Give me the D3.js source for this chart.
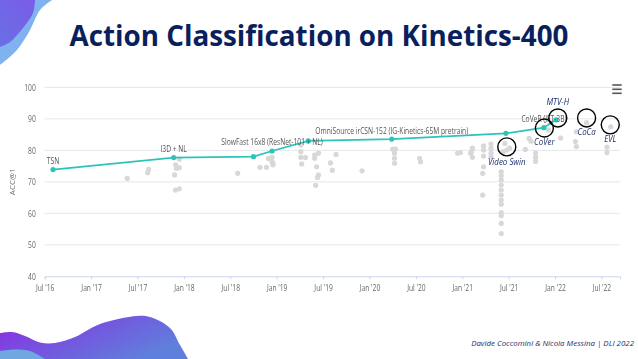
<!DOCTYPE html>
<html>
<head>
<meta charset="utf-8">
<script src="https://cdn.jsdelivr.net/npm/d3@7"></script>
<style>
html,body{margin:0;padding:0;background:#fff;overflow:hidden}
svg{display:block}
text{font-family:"Open Sans",sans-serif}
</style>
</head>
<body>
<svg id="chart" width="638" height="359"></svg>
<script>
const titleText = "Action Classification on Kinetics-400";
const footerText = "Davide Coccomini & Nicola Messina | DLI 2022";
const yTicks = [40, 50, 60, 70, 80, 90, 100];
const xTickYears = [2016.5, 2017, 2017.5, 2018, 2018.5, 2019, 2019.5, 2020, 2020.5, 2021, 2021.5, 2022, 2022.5];
const xTickLabels = ["Jul '16", "Jan '17", "Jul '17", "Jan '18", "Jul '18", "Jan '19", "Jul '19", "Jan '20", "Jul '20", "Jan '21", "Jul '21", "Jan '22", "Jul '22"];

const bestYears = [2016.59, 2017.89, 2018.75, 2018.95, 2019.34, 2020.24, 2021.47, 2021.88, 2022.01];
const bestValues = [73.9, 77.7, 78.0, 79.8, 83.0, 83.6, 85.4, 87.2, 89.7];
const bestLabels = ["TSN", "I3D + NL", "", "SlowFast 16x8 (ResNet-101 + NL)", "", "OmniSource irCSN-152 (IG-Kinetics-65M pretrain)", "", "CoVeR (JFT-3B)", ""];

const otherYears = [2017.39,2017.61,2017.62,2017.90,2017.92,2017.95,2017.91,2017.95,2017.91,2017.95,2018.58,2018.82,2018.89,2018.91,2018.95,2018.95,2018.96,2018.96,2019.26,2019.26,2019.26,2019.27,2019.31,2019.41,2019.41,2019.43,2019.45,2019.44,2019.42,2019.45,2019.58,2019.60,2019.64,2019.92,2020.25,2020.28,2020.27,2020.27,2020.27,2020.54,2020.55,2020.95,2020.98,2021.11,2021.10,2021.09,2021.11,2021.23,2021.23,2021.23,2021.23,2021.22,2021.22,2021.31,2021.31,2021.31,2021.31,2021.42,2021.42,2021.42,2021.42,2021.42,2021.42,2021.42,2021.42,2021.42,2021.42,2021.42,2021.42,2021.46,2021.51,2021.48,2021.44,2021.68,2021.72,2021.74,2021.79,2021.79,2021.79,2021.93,2022.06,2022.34,2022.23,2022.22,2022.23,2022.56,2022.56,2022.60];
const otherValues = [71.1,72.9,74.0,72.2,74.3,74.5,75.4,77.2,67.4,67.8,72.7,74.6,74.6,77.4,77.8,76.4,75.9,75.4,81.7,79.6,77.8,75.7,77.7,78.5,77.5,74.8,72.2,71.4,68.9,79.1,76.0,73.7,78.7,73.5,80.4,80.4,79.1,77.5,75.9,77.5,76.4,79.1,79.3,80.7,79.6,79.1,77.8,81.4,80.1,78.2,74.8,72.7,65.8,82.0,80.7,79.1,78.0,73.2,71.9,70.6,69.0,67.4,65.8,64.2,62.9,60.2,59.3,56.8,53.6,82.2,80.7,80.1,79.6,80.3,83.8,82.9,79.1,77.8,76.5,86.5,83.9,88.8,85.9,82.8,81.2,81.0,79.3,87.5];

const calloutNames = ["Video Swin", "CoVer", "MTV-H", "CoCa", "EVL"];
const calloutYears = [2021.48, 2021.885, 2022.03, 2022.34, 2022.595];
const calloutValues = [81.1, 87.1, 90.3, 90.3, 88.1];
const calloutLabelDy = [17.7, 17.3, -13, 17, 17];

const svg = d3.select("#chart");
const defs = svg.append("defs");
const g1 = defs.append("linearGradient").attr("id","gradBottom").attr("x1","0").attr("x2","1").attr("y1","0").attr("y2","0.5");
g1.append("stop").attr("offset","0").attr("stop-color","#8a2be2");
g1.append("stop").attr("offset","1").attr("stop-color","#5f7fdc");
const g2 = defs.append("linearGradient").attr("id","gradTop").attr("x1","1").attr("x2","0").attr("y1","0").attr("y2","1");
g2.append("stop").attr("offset","0").attr("stop-color","#7a5ce6");
g2.append("stop").attr("offset","1").attr("stop-color","#6a6fe6");
const soft = defs.append("filter").attr("id","soft");
soft.append("feGaussianBlur").attr("stdDeviation","0.3");

// decorative shapes
const curve = d3.line().curve(d3.curveCatmullRom);
const closeTo = (pts, extra) => curve(pts) + extra;
svg.append("path").attr("fill","#7fb2ee")
  .attr("d", closeTo([[52,0],[40,10],[30,30],[17,50],[0,65]], "L0,0Z"));
svg.append("path").attr("fill","url(#gradTop)")
  .attr("d", closeTo([[35,0],[33,13],[23,28],[10,42],[0,47]], "L0,0Z"));
svg.append("path").attr("fill","url(#gradBottom)")
  .attr("d", closeTo([[0,333],[12,332],[25,336],[40,342.5],[55,343],[75,337],[100,324],[137,316],[150,317],[170,328],[180,345],[188,359]], "L0,359Z"));
svg.append("path").attr("fill","#6fa8e0")
  .attr("d", closeTo([[0,351],[15,349.5],[30,351],[45,359]], "L0,359Z"));

// title and footer
svg.append("text").attr("x",319).attr("y",46).attr("text-anchor","middle")
  .attr("font-size",27.8).attr("font-weight",700).attr("fill","#0a1f5c").text(titleText);
svg.append("text").attr("x",634).attr("y",345.5).attr("text-anchor","end")
  .attr("font-size",7.9).attr("font-style","italic").attr("fill","#1d2f6b").text(footerText);

// chart
const x = d3.scaleLinear().domain([2016.5, 2022.7]).range([44.7, 620]);
const y = d3.scaleLinear().domain([40, 100]).range([276.3, 87.4]);
const chart = svg.append("g").attr("filter","url(#soft)");
const SX = 0.745;
const OPEN = "'Open Sans',sans-serif";

chart.append("g").selectAll("line").data(yTicks.slice(1)).join("line")
  .attr("x1",x.range()[0]).attr("x2",x.range()[1]).attr("y1",y).attr("y2",y)
  .attr("stroke","#e6e6ee").attr("stroke-width",1);

const xAxis = d3.axisBottom(x).tickValues(xTickYears)
  .tickFormat((d,i)=>xTickLabels[i]).tickSize(3).tickPadding(5);
const gx = chart.append("g").attr("transform",`translate(0,${y(40)})`).call(xAxis);
gx.selectAll("path,line").attr("stroke","#ccd6eb");
gx.selectAll("text").attr("font-size",9).attr("fill","#666").attr("font-family",OPEN)
  .attr("transform",`scale(${SX},1)`);

const yAxis = d3.axisLeft(y).tickValues(yTicks).tickSize(0).tickPadding(9);
const gy = chart.append("g").attr("transform",`translate(${x.range()[0]},0)`).call(yAxis);
gy.select("path").remove();
gy.selectAll("text").attr("font-size",9).attr("fill","#666").attr("font-family",OPEN)
  .attr("transform",`scale(${SX},1)`).attr("x",-9/SX);

chart.append("text").attr("transform",`translate(15,181.7) rotate(-90)`).attr("text-anchor","middle")
  .attr("font-size",8).attr("fill","#666").text("ACC@1");

const others = otherYears.map((d,i)=>({x:d,y:otherValues[i]}));
chart.append("g").selectAll("circle").data(others).join("circle")
  .attr("cx",d=>x(d.x)).attr("cy",d=>y(d.y)).attr("r",2.6).attr("fill","#d8d8d8");

const best = bestYears.map((d,i)=>({x:d,y:bestValues[i],label:bestLabels[i]}));
chart.append("path").datum(best).attr("fill","none").attr("stroke","#2cc4bb").attr("stroke-width",1.7)
  .attr("d",d3.line().x(d=>x(d.x)).y(d=>y(d.y)));
chart.append("g").selectAll("circle").data(best).join("circle")
  .attr("cx",d=>x(d.x)).attr("cy",d=>y(d.y)).attr("r",2.6).attr("fill","#2cc4bb");
chart.append("g").selectAll("text").data(best.filter(d=>d.label)).join("text")
  .attr("transform",d=>`translate(${x(d.x)},${y(d.y)-5.5}) scale(${SX},1)`).attr("text-anchor","middle")
  .attr("font-size",9).attr("fill","#555").text(d=>d.label);

// menu icon
const menuYs = [85, 89.3, 93.3];
chart.append("g").selectAll("line").data(menuYs).join("line")
  .attr("x1",612.3).attr("x2",621.7).attr("y1",d=>d).attr("y2",d=>d)
  .attr("stroke","#555").attr("stroke-width",1.6);

// callouts
const callouts = calloutNames.map((n,i)=>({n,x:calloutYears[i],y:calloutValues[i],dy:calloutLabelDy[i]}));
chart.append("g").selectAll("circle").data(callouts).join("circle")
  .attr("cx",d=>x(d.x)).attr("cy",d=>y(d.y)).attr("r",9).attr("fill","none")
  .attr("stroke","#000").attr("stroke-width",1.4);
chart.append("g").selectAll("text").data(callouts).join("text")
  .attr("transform",d=>`translate(${x(d.x)},${y(d.y)+d.dy}) scale(0.88,1)`).attr("text-anchor","middle")
  .attr("font-size",9).attr("font-style","italic").attr("fill","#1d2f6b").text(d=>d.n);
</script>
</body>
</html>
